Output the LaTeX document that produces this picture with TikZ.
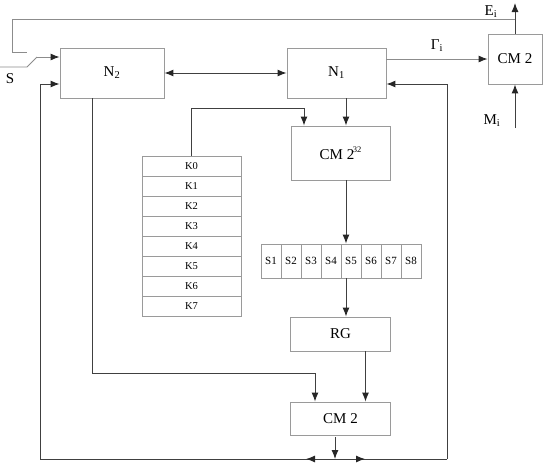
\documentclass[tikz,border=0pt]{standalone}
\usepackage{fontspec}
\setmainfont{Liberation Serif}
\usetikzlibrary{arrows.meta}
\definecolor{boxgray}{HTML}{9A9A9A}
\definecolor{wiregray}{HTML}{404040}
\definecolor{feedgray}{HTML}{8C8C8C}

\begin{document}
\begin{tikzpicture}[x=1pt,y=-1pt,
        block/.style={draw=boxgray,line width=0.9pt,inner sep=0pt,font=\fontsize{15}{18}\selectfont},
        kcell/.style={draw=boxgray,line width=0.9pt,minimum width=99pt,minimum height=20pt,inner sep=0pt,font=\fontsize{10.5}{12}\selectfont},
        scell/.style={draw=boxgray,line width=0.9pt,minimum width=20pt,minimum height=34pt,inner sep=0pt,font=\fontsize{11}{13}\selectfont},
        tip/.style={-{Latex[length=9pt,width=7pt,color=black!85]}},
        wire/.style={draw=wiregray,line width=0.95pt},
        feed/.style={draw=feedgray,line width=0.9pt},
        lbl/.style={inner sep=0pt,font=\fontsize{15}{18}\selectfont}]
    \useasboundingbox (0,0) rectangle (544,472);
    \node[block,minimum width=104pt,minimum height=50pt] (n2) at (112,73) {N\textsubscript{2}};
    \node[block,minimum width=99pt,minimum height=50pt] (n1) at (336.5,73) {N\textsubscript{1}};
    \node[block,minimum width=54pt,minimum height=50pt] (cmout) at (515,59) {CM 2};
    \node[block,minimum width=99pt,minimum height=54pt] (cm32) at (340.5,153) {CM 2\hspace{-1.5pt}\raisebox{7pt}{\fontsize{8.5}{9}\selectfont 32}};
    \node[block,minimum width=100pt,minimum height=34pt] (rg) at (340.5,334) {RG};
    \node[block,minimum width=100pt,minimum height=33pt] (cmsum) at (340.5,418.5) {CM 2};
    \foreach \i in {0,...,7}
        \node[kcell] (k\i) at (191.5,{166+20*\i}) {K\i};
    \foreach \i in {1,...,8}
        \node[scell] (s\i) at ({251+20*\i},261) {S\i};
    \coordinate (axis) at (346,0);
    \coordinate (eout) at (515,3);
    \coordinate (ejoin) at (515,19);
    \coordinate (min) at (515,128);
    \coordinate (sin) at (0,67);
    \coordinate (swtop) at (27,52);
    \coordinate (swbot) at (27,67);
    \coordinate (swlever) at (37,57);
    \coordinate (lb) at (40,459);
    \coordinate (rb) at (447,459);
    \coordinate (jct) at (335,459);
    \coordinate (jl) at (306,459);
    \coordinate (jr) at (365,459);
    \node[lbl] (elbl) at (491,12) {E\textsubscript{i}};
    \node[lbl] (glbl) at (437,46) {Γ\textsubscript{i}};
    \node[lbl] (mlbl) at (492,121) {M\textsubscript{i}};
    \node[lbl] (slbl) at (10,79) {S};
    \draw[wire,tip] (cmout.north) -- (eout);
    \draw[wire,tip] (min) -- (cmout.south);
    \draw[feed,tip] (n1.east |- cmout) -- (cmout.west);
    \draw[feed] (ejoin) -- (12,19) -- (12,52) -- (swtop);
    \draw[feed] (sin) -- (swbot) -- (swlever);
    \draw[feed,tip] (swlever) -- (swlever -| n2.west);
    \draw[wire,{Latex[length=9pt,width=7pt,color=black!85]}-{Latex[length=9pt,width=7pt,color=black!85]}] (n2.east) -- (n1.west);
    \draw[wire,tip] (n1.south -| axis) -- (cm32.north -| axis);
    \draw[wire,tip] (k0.north) -- ++(0,-47) -| ([xshift=-36.5pt]cm32.north);
    \draw[wire,tip] (cm32.south -| axis) -- (s5.north -| axis);
    \draw[wire,tip] (s5.south -| axis) -- (rg.north -| axis);
    \draw[wire,tip] ([xshift=-20pt]n2.south) -- ++(0,275) -| ([xshift=-25.5pt]cmsum.north);
    \draw[wire,tip] ([xshift=25pt]rg.south) -- ([xshift=25pt]cmsum.north);
    \draw[wire,tip,shorten <=2pt] ([xshift=-5.5pt]cmsum.south) -- (jct);
    \draw[wire] (lb) -- (rb);
    \draw[wire,tip] (jct) -- (jl);
    \draw[wire,tip] (jct) -- (jr);
    \draw[wire,tip] (lb) |- ([yshift=-11pt]n2.west);
    \draw[wire,tip] (rb) |- ([yshift=-11pt]n1.east);
\end{tikzpicture}
\end{document}
